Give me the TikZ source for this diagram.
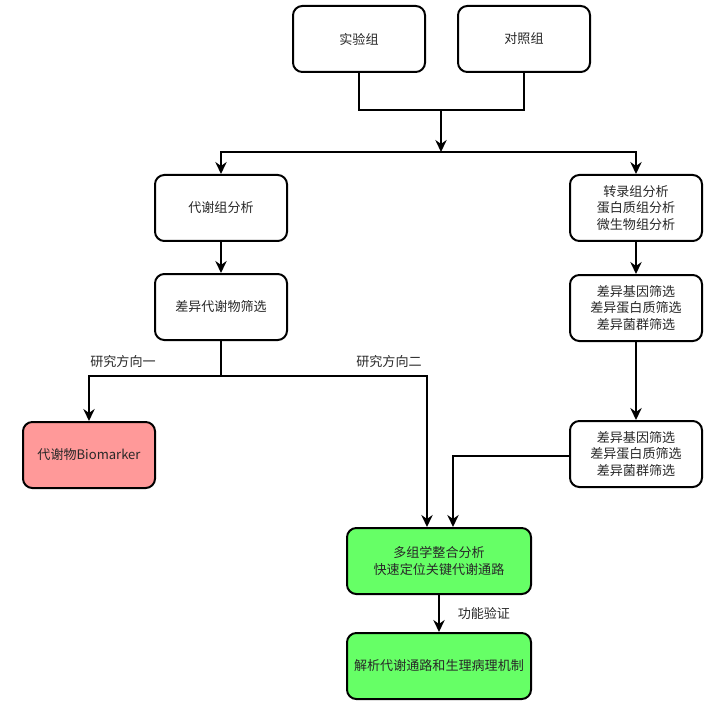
\documentclass[tikz,border=0pt]{standalone}
\usepackage{fontspec}
\newfontfamily\cjk{Noto Sans CJK SC}
\usetikzlibrary{arrows.meta,positioning}
\definecolor{textgray}{RGB}{40,40,40}
\definecolor{markerred}{RGB}{255,153,153}
\definecolor{omicsgreen}{RGB}{102,255,102}
\tikzset{
  stepbox/.style={rectangle, rounded corners=7pt, draw=black, line width=1.5pt,
    fill=white, minimum width=99pt, minimum height=49.5pt,
    align=center, font=\cjk\fontsize{9.8}{12.3}\selectfont, text=textgray, inner sep=2pt},
  markerbox/.style={stepbox, fill=markerred},
  resultbox/.style={stepbox, fill=omicsgreen, minimum width=138pt},
  flow/.style={-{Stealth[length=9pt,width=8.5pt,inset=3pt]}, line width=1.5pt},
  joinline/.style={line width=1.5pt},
  tag/.style={font=\cjk\fontsize{9.8}{12.3}\selectfont, text=textgray}
}
\begin{document}
\begin{tikzpicture}[x=0.75pt, y=-0.75pt]
  \useasboundingbox (0,0) rectangle (725,706);

  % --- groups ---
  \node[stepbox] (exp) at (359,39) {实验组};
  \node[stepbox] (ctrl) at (524,39) {对照组};

  % --- metabolomics branch ---
  \node[stepbox] (meta) at (221,208) {代谢组分析};
  \node[stepbox] (metadiff) at (221,307) {差异代谢物筛选};
  \node[markerbox] (bio) at (89,455) {代谢物Biomarker};

  % --- other omics branch ---
  \node[stepbox] (omics) at (636,208) {转录组分析\\蛋白质组分析\\微生物组分析};
  \node[stepbox] (omicsdiff) at (636,308) {差异基因筛选\\差异蛋白质筛选\\差异菌群筛选};
  \node[stepbox] (omicsdiff2) at (636,454) {差异基因筛选\\差异蛋白质筛选\\差异菌群筛选};

  % --- integration ---
  \node[resultbox] (multi) at (439,561) {多组学整合分析\\快速定位关键代谢通路};
  \node[resultbox] (mech) at (439,666) {解析代谢通路和生理病理机制};

  % --- junctions ---
  \coordinate (join) at (441,110);
  \coordinate (split) at (441,152);
  \coordinate (fork) at (221,376);

  % ---------------- edges ----------------
  \draw[joinline] (exp.south) |- (join) -| (ctrl.south);
  \draw[flow] (join) -- (split);
  \draw[flow] (split) -| (meta.north);
  \draw[flow] (split) -| (omics.north);

  \draw[flow] (meta) -- (metadiff);
  \draw[flow] (omics) -- (omicsdiff);
  \draw[flow] (omicsdiff) -- (omicsdiff2);

  % two research directions
  \draw[joinline] (metadiff.south) -- (fork);
  \draw[flow] (fork) -| (bio.north);
  \draw[flow] (fork) -| ([xshift=-9pt]multi.north);
  \node[tag] (dirone) at (123,362) {研究方向一};
  \node[tag] (dirtwo) at (389,362) {研究方向二};

  \draw[flow] ([yshift=-1.5pt]omicsdiff2.west) -| ([xshift=10.5pt]multi.north);

  \draw[flow] (multi) -- (mech) node[tag, midway, right=10pt] {功能验证};

\end{tikzpicture}
\end{document}
